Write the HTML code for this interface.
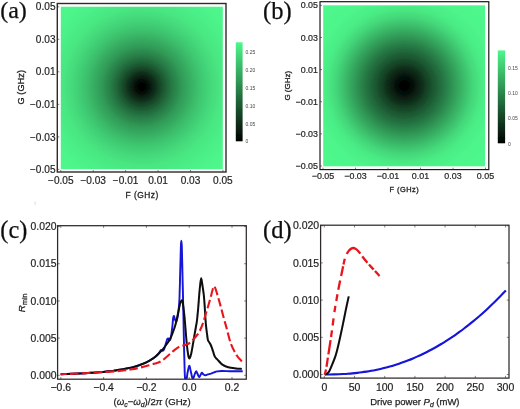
<!DOCTYPE html>
<html><head><meta charset="utf-8"><title>figure</title>
<style>html,body{margin:0;padding:0;background:#fff;overflow:hidden}svg{display:block}</style></head>
<body>
<svg width="520" height="409" viewBox="0 0 520 409">
<defs>
<radialGradient id="ga" gradientUnits="userSpaceOnUse" cx="141.8" cy="86.7" r="114.5"><stop offset="0.0000" stop-color="#000000"/><stop offset="0.0023" stop-color="#000000"/><stop offset="0.0071" stop-color="#000100"/><stop offset="0.0136" stop-color="#010201"/><stop offset="0.0216" stop-color="#010302"/><stop offset="0.0308" stop-color="#010402"/><stop offset="0.0413" stop-color="#020804"/><stop offset="0.0528" stop-color="#040c07"/><stop offset="0.0654" stop-color="#06120a"/><stop offset="0.0789" stop-color="#08190e"/><stop offset="0.0934" stop-color="#0b2113"/><stop offset="0.1088" stop-color="#0d2a18"/><stop offset="0.1251" stop-color="#10331d"/><stop offset="0.1422" stop-color="#133d22"/><stop offset="0.1601" stop-color="#164728"/><stop offset="0.1787" stop-color="#1a512e"/><stop offset="0.1982" stop-color="#1d5b33"/><stop offset="0.2184" stop-color="#206539"/><stop offset="0.2393" stop-color="#236e3e"/><stop offset="0.2609" stop-color="#267844"/><stop offset="0.2832" stop-color="#298149"/><stop offset="0.3062" stop-color="#2b894e"/><stop offset="0.3299" stop-color="#2e9253"/><stop offset="0.3542" stop-color="#319b57"/><stop offset="0.3792" stop-color="#33a25b"/><stop offset="0.4047" stop-color="#35a960"/><stop offset="0.4310" stop-color="#38b064"/><stop offset="0.4578" stop-color="#3ab868"/><stop offset="0.4852" stop-color="#3cbf6c"/><stop offset="0.5132" stop-color="#3ec670"/><stop offset="0.5418" stop-color="#40cc73"/><stop offset="0.5710" stop-color="#42d277"/><stop offset="0.6008" stop-color="#44d87a"/><stop offset="0.6311" stop-color="#46dd7d"/><stop offset="0.6620" stop-color="#47e280"/><stop offset="0.6934" stop-color="#49e782"/><stop offset="0.7254" stop-color="#49e984"/><stop offset="0.7579" stop-color="#4aec85"/><stop offset="0.7909" stop-color="#4bef87"/><stop offset="0.8245" stop-color="#4cf188"/><stop offset="0.8586" stop-color="#4cf389"/><stop offset="0.8932" stop-color="#4df58a"/><stop offset="0.9283" stop-color="#4df68b"/><stop offset="0.9639" stop-color="#4ef78b"/><stop offset="1.0000" stop-color="#4ef88c"/></radialGradient>
<radialGradient id="gb" gradientUnits="userSpaceOnUse" cx="404.4" cy="85.6" r="114.5"><stop offset="0.0000" stop-color="#000000"/><stop offset="0.0023" stop-color="#000000"/><stop offset="0.0071" stop-color="#000100"/><stop offset="0.0136" stop-color="#000101"/><stop offset="0.0216" stop-color="#010201"/><stop offset="0.0308" stop-color="#010302"/><stop offset="0.0413" stop-color="#020503"/><stop offset="0.0528" stop-color="#030805"/><stop offset="0.0654" stop-color="#040c07"/><stop offset="0.0789" stop-color="#05110a"/><stop offset="0.0934" stop-color="#07160d"/><stop offset="0.1088" stop-color="#091d10"/><stop offset="0.1251" stop-color="#0b2314"/><stop offset="0.1422" stop-color="#0d2a18"/><stop offset="0.1601" stop-color="#10321c"/><stop offset="0.1787" stop-color="#123920"/><stop offset="0.1982" stop-color="#154225"/><stop offset="0.2184" stop-color="#174a2a"/><stop offset="0.2393" stop-color="#1a522e"/><stop offset="0.2609" stop-color="#1c5a33"/><stop offset="0.2832" stop-color="#1f6237"/><stop offset="0.3062" stop-color="#216a3c"/><stop offset="0.3299" stop-color="#247241"/><stop offset="0.3542" stop-color="#277b46"/><stop offset="0.3792" stop-color="#2a854b"/><stop offset="0.4047" stop-color="#2d8f51"/><stop offset="0.4310" stop-color="#309956"/><stop offset="0.4578" stop-color="#33a35c"/><stop offset="0.4852" stop-color="#37ae62"/><stop offset="0.5132" stop-color="#3ab868"/><stop offset="0.5418" stop-color="#3dc36e"/><stop offset="0.5710" stop-color="#41cd74"/><stop offset="0.6008" stop-color="#44d87a"/><stop offset="0.6311" stop-color="#46df7e"/><stop offset="0.6620" stop-color="#49e782"/><stop offset="0.6934" stop-color="#4aed86"/><stop offset="0.7254" stop-color="#4bf087"/><stop offset="0.7579" stop-color="#4cf289"/><stop offset="0.7909" stop-color="#4df58a"/><stop offset="0.8245" stop-color="#4df58b"/><stop offset="0.8586" stop-color="#4df68b"/><stop offset="0.8932" stop-color="#4ef78b"/><stop offset="0.9283" stop-color="#4ef78c"/><stop offset="0.9639" stop-color="#4ef88c"/><stop offset="1.0000" stop-color="#4ef88c"/></radialGradient>
<linearGradient id="gbar" x1="0" y1="1" x2="0" y2="0"><stop offset="0" stop-color="#000000"/><stop offset="0.12" stop-color="#0a1f12"/><stop offset="0.25" stop-color="#143e23"/><stop offset="0.38" stop-color="#1d5d34"/><stop offset="0.5" stop-color="#277c46"/><stop offset="0.62" stop-color="#319b58"/><stop offset="0.75" stop-color="#3aba69"/><stop offset="0.88" stop-color="#44d97a"/><stop offset="1" stop-color="#4ef88c"/></linearGradient>
<filter id="soft" x="-2%" y="-2%" width="104%" height="104%"><feGaussianBlur stdDeviation="0.45"/></filter>
</defs>
<rect width="520" height="409" fill="#fff"/>
<g filter="url(#soft)">
<rect x="60.8" y="6.7" width="162" height="162.5" fill="url(#ga)"/>
<rect x="57.3" y="3.5" width="168.7" height="168.5" fill="none" stroke="#2e2a2c" stroke-width="1.4"/>
<text x="60.8" y="184" font-size="10.1" text-anchor="middle" font-family='"Liberation Sans", Arial, Helvetica, sans-serif' fill="#1f1f1f"  stroke="#1f1f1f" stroke-width="0.2">−0.05</text>
<text x="55.5" y="173.02" font-size="10.1" text-anchor="end" font-family='"Liberation Sans", Arial, Helvetica, sans-serif' fill="#1f1f1f"  stroke="#1f1f1f" stroke-width="0.2">−0.05</text>
<path d="M60.8 172v-2M57.3 169.4h2" stroke="#2e2a2c" stroke-width="0.6" fill="none"/>
<text x="93.22" y="184" font-size="10.1" text-anchor="middle" font-family='"Liberation Sans", Arial, Helvetica, sans-serif' fill="#1f1f1f"  stroke="#1f1f1f" stroke-width="0.2">−0.03</text>
<text x="55.5" y="140.5" font-size="10.1" text-anchor="end" font-family='"Liberation Sans", Arial, Helvetica, sans-serif' fill="#1f1f1f"  stroke="#1f1f1f" stroke-width="0.2">−0.03</text>
<path d="M93.22 172v-2M57.3 136.88h2" stroke="#2e2a2c" stroke-width="0.6" fill="none"/>
<text x="125.64" y="184" font-size="10.1" text-anchor="middle" font-family='"Liberation Sans", Arial, Helvetica, sans-serif' fill="#1f1f1f"  stroke="#1f1f1f" stroke-width="0.2">−0.01</text>
<text x="55.5" y="107.98" font-size="10.1" text-anchor="end" font-family='"Liberation Sans", Arial, Helvetica, sans-serif' fill="#1f1f1f"  stroke="#1f1f1f" stroke-width="0.2">−0.01</text>
<path d="M125.64 172v-2M57.3 104.36h2" stroke="#2e2a2c" stroke-width="0.6" fill="none"/>
<text x="158.06" y="184" font-size="10.1" text-anchor="middle" font-family='"Liberation Sans", Arial, Helvetica, sans-serif' fill="#1f1f1f"  stroke="#1f1f1f" stroke-width="0.2">0.01</text>
<text x="55.5" y="75.46" font-size="10.1" text-anchor="end" font-family='"Liberation Sans", Arial, Helvetica, sans-serif' fill="#1f1f1f"  stroke="#1f1f1f" stroke-width="0.2">0.01</text>
<path d="M158.06 172v-2M57.3 71.84h2" stroke="#2e2a2c" stroke-width="0.6" fill="none"/>
<text x="190.48" y="184" font-size="10.1" text-anchor="middle" font-family='"Liberation Sans", Arial, Helvetica, sans-serif' fill="#1f1f1f"  stroke="#1f1f1f" stroke-width="0.2">0.03</text>
<text x="55.5" y="42.94" font-size="10.1" text-anchor="end" font-family='"Liberation Sans", Arial, Helvetica, sans-serif' fill="#1f1f1f"  stroke="#1f1f1f" stroke-width="0.2">0.03</text>
<path d="M190.48 172v-2M57.3 39.32h2" stroke="#2e2a2c" stroke-width="0.6" fill="none"/>
<text x="222.9" y="184" font-size="10.1" text-anchor="middle" font-family='"Liberation Sans", Arial, Helvetica, sans-serif' fill="#1f1f1f"  stroke="#1f1f1f" stroke-width="0.2">0.05</text>
<text x="55.5" y="10.42" font-size="10.1" text-anchor="end" font-family='"Liberation Sans", Arial, Helvetica, sans-serif' fill="#1f1f1f"  stroke="#1f1f1f" stroke-width="0.2">0.05</text>
<path d="M222.9 172v-2M57.3 6.8h2" stroke="#2e2a2c" stroke-width="0.6" fill="none"/>
<text x="142.2" y="198" font-size="8.4" text-anchor="middle" font-family='"Liberation Sans", Arial, Helvetica, sans-serif' fill="#1f1f1f" letter-spacing="0.5" stroke="#1f1f1f" stroke-width="0.3">F (GHz)</text>
<text x="0" y="0" font-size="9.1" text-anchor="middle" font-family='"Liberation Sans", Arial, Helvetica, sans-serif' fill="#1f1f1f" letter-spacing="0.1" stroke="#1f1f1f" stroke-width="0.3" transform="translate(23.9 87.2) rotate(-90)">G (GHz)</text>
<rect x="235.8" y="42.3" width="6.8" height="99" fill="url(#gbar)"/>
<text x="245.5" y="143.39" font-size="5" text-anchor="start" font-family='"Liberation Sans", Arial, Helvetica, sans-serif' fill="#444" >0</text>
<text x="245.5" y="125.99" font-size="5" text-anchor="start" font-family='"Liberation Sans", Arial, Helvetica, sans-serif' fill="#444" >0.05</text>
<text x="245.5" y="108.19" font-size="5" text-anchor="start" font-family='"Liberation Sans", Arial, Helvetica, sans-serif' fill="#444" >0.10</text>
<text x="245.5" y="90.29" font-size="5" text-anchor="start" font-family='"Liberation Sans", Arial, Helvetica, sans-serif' fill="#444" >0.15</text>
<text x="245.5" y="72.39" font-size="5" text-anchor="start" font-family='"Liberation Sans", Arial, Helvetica, sans-serif' fill="#444" >0.20</text>
<text x="245.5" y="54.49" font-size="5" text-anchor="start" font-family='"Liberation Sans", Arial, Helvetica, sans-serif' fill="#444" >0.25</text>
<text x="0.2" y="18.3" font-size="24" text-anchor="start" font-family='"Liberation Serif", "Times New Roman", serif' fill="#111" stroke="#111" stroke-width="0.25">(a)</text>
<rect x="323.2" y="5.3" width="161.9" height="161" fill="url(#gb)"/>
<rect x="320" y="1.7" width="168.8" height="167.9" fill="none" stroke="#141214" stroke-width="1.15"/>
<text x="323" y="178.7" font-size="8.9" text-anchor="middle" font-family='"Liberation Sans", Arial, Helvetica, sans-serif' fill="#1f1f1f"  stroke="#1f1f1f" stroke-width="0.2">−0.05</text>
<text x="318" y="169.19" font-size="8.9" text-anchor="end" font-family='"Liberation Sans", Arial, Helvetica, sans-serif' fill="#1f1f1f"  stroke="#1f1f1f" stroke-width="0.2">−0.05</text>
<path d="M323 169.6v-2M320 166h2" stroke="#2e2a2c" stroke-width="0.6" fill="none"/>
<text x="355.5" y="178.7" font-size="8.9" text-anchor="middle" font-family='"Liberation Sans", Arial, Helvetica, sans-serif' fill="#1f1f1f"  stroke="#1f1f1f" stroke-width="0.2">−0.03</text>
<text x="318" y="137.05" font-size="8.9" text-anchor="end" font-family='"Liberation Sans", Arial, Helvetica, sans-serif' fill="#1f1f1f"  stroke="#1f1f1f" stroke-width="0.2">−0.03</text>
<path d="M355.5 169.6v-2M320 133.86h2" stroke="#2e2a2c" stroke-width="0.6" fill="none"/>
<text x="388" y="178.7" font-size="8.9" text-anchor="middle" font-family='"Liberation Sans", Arial, Helvetica, sans-serif' fill="#1f1f1f"  stroke="#1f1f1f" stroke-width="0.2">−0.01</text>
<text x="318" y="104.91" font-size="8.9" text-anchor="end" font-family='"Liberation Sans", Arial, Helvetica, sans-serif' fill="#1f1f1f"  stroke="#1f1f1f" stroke-width="0.2">−0.01</text>
<path d="M388 169.6v-2M320 101.72h2" stroke="#2e2a2c" stroke-width="0.6" fill="none"/>
<text x="420.5" y="178.7" font-size="8.9" text-anchor="middle" font-family='"Liberation Sans", Arial, Helvetica, sans-serif' fill="#1f1f1f"  stroke="#1f1f1f" stroke-width="0.2">0.01</text>
<text x="318" y="72.77" font-size="8.9" text-anchor="end" font-family='"Liberation Sans", Arial, Helvetica, sans-serif' fill="#1f1f1f"  stroke="#1f1f1f" stroke-width="0.2">0.01</text>
<path d="M420.5 169.6v-2M320 69.58h2" stroke="#2e2a2c" stroke-width="0.6" fill="none"/>
<text x="453" y="178.7" font-size="8.9" text-anchor="middle" font-family='"Liberation Sans", Arial, Helvetica, sans-serif' fill="#1f1f1f"  stroke="#1f1f1f" stroke-width="0.2">0.03</text>
<text x="318" y="40.63" font-size="8.9" text-anchor="end" font-family='"Liberation Sans", Arial, Helvetica, sans-serif' fill="#1f1f1f"  stroke="#1f1f1f" stroke-width="0.2">0.03</text>
<path d="M453 169.6v-2M320 37.44h2" stroke="#2e2a2c" stroke-width="0.6" fill="none"/>
<text x="485.5" y="178.7" font-size="8.9" text-anchor="middle" font-family='"Liberation Sans", Arial, Helvetica, sans-serif' fill="#1f1f1f"  stroke="#1f1f1f" stroke-width="0.2">0.05</text>
<text x="318" y="8.49" font-size="8.9" text-anchor="end" font-family='"Liberation Sans", Arial, Helvetica, sans-serif' fill="#1f1f1f"  stroke="#1f1f1f" stroke-width="0.2">0.05</text>
<path d="M485.5 169.6v-2M320 5.3h2" stroke="#2e2a2c" stroke-width="0.6" fill="none"/>
<text x="404.4" y="191.5" font-size="7.4" text-anchor="middle" font-family='"Liberation Sans", Arial, Helvetica, sans-serif' fill="#1f1f1f" letter-spacing="0.5" stroke="#1f1f1f" stroke-width="0.3">F (GHz)</text>
<text x="0" y="0" font-size="8.0" text-anchor="middle" font-family='"Liberation Sans", Arial, Helvetica, sans-serif' fill="#1f1f1f" letter-spacing="0" stroke="#1f1f1f" stroke-width="0.3" transform="translate(290.4 85.7) rotate(-90)">G (GHz)</text>
<rect x="497.8" y="50.4" width="7.3" height="92.9" fill="url(#gbar)"/>
<text x="508" y="145.59" font-size="5" text-anchor="start" font-family='"Liberation Sans", Arial, Helvetica, sans-serif' fill="#444" >0</text>
<text x="508" y="120.39" font-size="5" text-anchor="start" font-family='"Liberation Sans", Arial, Helvetica, sans-serif' fill="#444" >0.05</text>
<text x="508" y="95.39" font-size="5" text-anchor="start" font-family='"Liberation Sans", Arial, Helvetica, sans-serif' fill="#444" >0.10</text>
<text x="508" y="69.99" font-size="5" text-anchor="start" font-family='"Liberation Sans", Arial, Helvetica, sans-serif' fill="#444" >0.15</text>
<text x="263.1" y="18.9" font-size="24.5" text-anchor="start" font-family='"Liberation Serif", "Times New Roman", serif' fill="#111" stroke="#111" stroke-width="0.25">(b)</text>
<rect x="34.6" y="201.5" width="1" height="3.6" fill="#dcdcdc"/>
<clipPath id="clipc"><rect x="57.6" y="225.7" width="188.7" height="153.5"/></clipPath>
<g clip-path="url(#clipc)" fill="none" stroke-linejoin="round">
<path d="M60.7 374.3C61.65 374.25 65.16 374.07 67 374C68.84 373.93 71.2 373.88 73 373.8C74.8 373.73 77.2 373.59 79 373.5C80.8 373.41 83.2 373.31 85 373.2C86.8 373.09 89.2 372.92 91 372.8C92.8 372.68 95.2 372.53 97 372.4C98.8 372.26 101.2 372.06 103 371.9C104.8 371.73 107.2 371.51 109 371.3C110.8 371.09 113.2 370.75 115 370.5C116.8 370.25 119.2 369.92 121 369.6C122.8 369.29 125.2 368.77 127 368.4C128.8 368.02 131.2 367.56 133 367.1C134.8 366.64 137.2 365.92 139 365.3C140.8 364.69 143.2 363.82 145 363C146.8 362.18 149.35 360.81 151 359.8C152.65 358.8 154.8 357.32 156 356.3C157.2 355.28 158.25 353.94 159 353C159.75 352.06 160.47 350.33 161 350C161.53 349.67 162.05 350.88 162.5 350.8C162.95 350.73 163.47 350.67 164 349.5C164.53 348.33 165.5 344.57 166 343C166.5 341.43 166.93 339.68 167.3 339C167.68 338.32 168.16 338.27 168.5 338.5C168.84 338.73 169.22 340.73 169.6 340.5C169.97 340.27 170.59 339.02 171 337C171.41 334.98 171.97 329.85 172.3 327C172.63 324.15 172.94 319.65 173.2 318C173.45 316.35 173.73 315.77 174 316C174.27 316.23 174.66 318.68 175 319.5C175.34 320.32 175.91 321.88 176.3 321.5C176.69 321.12 177.25 318.73 177.6 317C177.94 315.27 178.31 312.85 178.6 310C178.88 307.15 179.25 304.3 179.5 298C179.75 291.7 180.09 275.8 180.3 268C180.51 260.2 180.75 250.08 180.9 246C181.05 241.92 181.17 240.8 181.3 240.8C181.44 240.8 181.62 240.87 181.8 246C181.98 251.13 182.28 265.4 182.5 275C182.72 284.6 183.08 299.5 183.3 310C183.53 320.5 183.79 335.7 184 345C184.21 354.3 184.52 366.82 184.7 372C184.88 377.18 184.93 378.38 185.2 379.5C185.47 380.62 186.14 380.55 186.5 379.5C186.86 378.45 187.19 374.56 187.6 372.5C188 370.44 188.75 366.1 189.2 365.8C189.65 365.5 190.13 368.67 190.6 370.5C191.06 372.33 191.87 376.88 192.3 378C192.74 379.12 193.12 378.6 193.5 378C193.88 377.4 194.4 375 194.8 374C195.21 373 195.78 371.3 196.2 371.3C196.62 371.3 197.18 373.14 197.6 374C198.02 374.86 198.59 376.77 199 377C199.41 377.23 199.88 376.14 200.3 375.5C200.72 374.86 201.32 372.85 201.8 372.7C202.28 372.55 202.94 374.12 203.5 374.5C204.06 374.88 204.87 375.21 205.5 375.2C206.13 375.19 206.88 374.64 207.7 374.4C208.52 374.16 210.06 373.9 211 373.6C211.94 373.3 213.06 372.73 214 372.4C214.94 372.07 216.1 371.61 217.3 371.4C218.5 371.19 220.09 371.03 222 371C223.91 370.97 226.9 371.15 230 371.2C233.1 371.25 240.79 371.29 242.7 371.3" stroke="#1212d8" stroke-width="1.9" />
<path d="M60.7 374.3C61.75 374.25 64.95 374.08 67 374C69.05 373.92 71 373.88 73 373.8C75 373.72 77 373.6 79 373.5C81 373.4 83 373.32 85 373.2C87 373.08 89 372.93 91 372.8C93 372.67 95 372.55 97 372.4C99 372.25 101 372.08 103 371.9C105 371.72 107 371.53 109 371.3C111 371.07 113 370.78 115 370.5C117 370.22 119 369.95 121 369.6C123 369.25 125 368.82 127 368.4C129 367.98 131 367.62 133 367.1C135 366.58 137 365.98 139 365.3C141 364.62 143.17 363.83 145 363C146.83 362.17 148.33 361.3 150 360.3C151.67 359.3 153.33 358.33 155 357C156.67 355.67 158.33 354.05 160 352.3C161.67 350.55 163.33 348.72 165 346.5C166.67 344.28 168.67 341.42 170 339C171.33 336.58 172.08 334.42 173 332C173.92 329.58 174.67 327.58 175.5 324.5C176.33 321.42 177.25 316.92 178 313.5C178.75 310.08 179.4 306.18 180 304C180.6 301.82 181.13 300.57 181.6 300.4C182.07 300.23 182.3 300.07 182.8 303C183.3 305.93 183.97 311.5 184.6 318C185.23 324.5 186 335.83 186.6 342C187.2 348.17 187.73 352.25 188.2 355C188.67 357.75 188.93 358.58 189.4 358.5C189.87 358.42 190.43 356.75 191 354.5C191.57 352.25 192.23 348.17 192.8 345C193.37 341.83 193.9 338.42 194.4 335.5C194.9 332.58 195.38 329.92 195.8 327.5C196.22 325.08 196.5 324.25 196.9 321C197.3 317.75 197.82 312.33 198.2 308C198.58 303.67 198.87 298.92 199.2 295C199.53 291.08 199.87 287.3 200.2 284.5C200.53 281.7 200.85 278.2 201.2 278.2C201.55 278.2 201.87 281.7 202.3 284.5C202.73 287.3 203.38 291.08 203.8 295C204.22 298.92 204.5 303.67 204.8 308C205.1 312.33 205.32 317.33 205.6 321C205.88 324.67 206.22 327.5 206.5 330C206.78 332.5 207.07 334.33 207.3 336C207.53 337.67 207.57 338.92 207.9 340C208.23 341.08 208.85 341.72 209.3 342.5C209.75 343.28 210.18 343.85 210.6 344.7C211.02 345.55 211.37 346.42 211.8 347.6C212.23 348.78 212.78 350.52 213.2 351.8C213.62 353.08 213.95 354.38 214.3 355.3C214.65 356.22 214.9 356.7 215.3 357.3C215.7 357.9 216.17 358.32 216.7 358.9C217.23 359.48 217.85 360.12 218.5 360.8C219.15 361.48 219.88 362.32 220.6 363C221.32 363.68 221.9 364.32 222.8 364.9C223.7 365.48 224.68 366.02 226 366.5C227.32 366.98 229.03 367.47 230.7 367.8C232.37 368.13 234.15 368.32 236 368.5C237.85 368.68 240.83 368.83 241.8 368.9" stroke="#0a0a0a" stroke-width="2.0" />
<path d="M60.7 374.3C62.25 374.23 66.78 374.03 70 373.9C73.22 373.77 76.5 373.68 80 373.5C83.5 373.32 87.33 373.03 91 372.8C94.67 372.57 98 372.35 102 372.1C106 371.85 111.17 371.6 115 371.3C118.83 371 122.17 370.63 125 370.3C127.83 369.97 129.5 369.75 132 369.3C134.5 368.85 137.33 368.22 140 367.6C142.67 366.98 145.5 366.27 148 365.6C150.5 364.93 153 364.23 155 363.6C157 362.97 158.33 362.68 160 361.8C161.67 360.92 163.33 359.6 165 358.3C166.67 357 168.33 355.45 170 354C171.67 352.55 173.33 350.87 175 349.6C176.67 348.33 178.17 347.2 180 346.4C181.83 345.6 184.17 345.57 186 344.8C187.83 344.03 189 343.63 191 341.8C193 339.97 196.25 336.27 198 333.8C199.75 331.33 200.53 329.22 201.5 327C202.47 324.78 203.02 322.92 203.8 320.5C204.58 318.08 205.42 315.08 206.2 312.5C206.98 309.92 207.77 307.5 208.5 305C209.23 302.5 209.98 299.78 210.6 297.5C211.22 295.22 211.75 292.95 212.2 291.3C212.65 289.65 212.98 288.43 213.3 287.6C213.62 286.77 213.85 286.37 214.1 286.3C214.35 286.23 214.52 286.67 214.8 287.2C215.08 287.73 215.3 288 215.8 289.5C216.3 291 217.23 294.28 217.8 296.2C218.37 298.12 218.67 299.12 219.2 301C219.73 302.88 220.23 304.65 221 307.5C221.77 310.35 222.92 314.85 223.8 318.1C224.68 321.35 225.13 322.77 226.3 327C227.47 331.23 229.1 338.83 230.8 343.5C232.5 348.17 234.8 352.17 236.5 355C238.2 357.83 239.97 359.33 241 360.5C242.03 361.67 242.42 361.75 242.7 362" stroke="#e8141c" stroke-width="2.1" stroke-dasharray="8.6 3.3" stroke-dashoffset="2.6"/>
</g>
<rect x="57.6" y="225.7" width="188.7" height="153.5" fill="none" stroke="#2e2a2c" stroke-width="1.25"/>
<text x="60.8" y="391.4" font-size="10.4" text-anchor="middle" font-family='"Liberation Sans", Arial, Helvetica, sans-serif' fill="#1f1f1f"  stroke="#1f1f1f" stroke-width="0.2">−0.6</text>
<path d="M60.8 379.2v-2.2M60.8 225.7v2.2" stroke="#2e2a2c" stroke-width="0.6" fill="none"/>
<text x="103.6" y="391.4" font-size="10.4" text-anchor="middle" font-family='"Liberation Sans", Arial, Helvetica, sans-serif' fill="#1f1f1f"  stroke="#1f1f1f" stroke-width="0.2">−0.4</text>
<path d="M103.6 379.2v-2.2M103.6 225.7v2.2" stroke="#2e2a2c" stroke-width="0.6" fill="none"/>
<text x="146.4" y="391.4" font-size="10.4" text-anchor="middle" font-family='"Liberation Sans", Arial, Helvetica, sans-serif' fill="#1f1f1f"  stroke="#1f1f1f" stroke-width="0.2">−0.2</text>
<path d="M146.4 379.2v-2.2M146.4 225.7v2.2" stroke="#2e2a2c" stroke-width="0.6" fill="none"/>
<text x="189.2" y="391.4" font-size="10.4" text-anchor="middle" font-family='"Liberation Sans", Arial, Helvetica, sans-serif' fill="#1f1f1f"  stroke="#1f1f1f" stroke-width="0.2">0.0</text>
<path d="M189.2 379.2v-2.2M189.2 225.7v2.2" stroke="#2e2a2c" stroke-width="0.6" fill="none"/>
<text x="232" y="391.4" font-size="10.4" text-anchor="middle" font-family='"Liberation Sans", Arial, Helvetica, sans-serif' fill="#1f1f1f"  stroke="#1f1f1f" stroke-width="0.2">0.2</text>
<path d="M232 379.2v-2.2M232 225.7v2.2" stroke="#2e2a2c" stroke-width="0.6" fill="none"/>
<text x="56.6" y="379.02" font-size="10.4" text-anchor="end" font-family='"Liberation Sans", Arial, Helvetica, sans-serif' fill="#1f1f1f"  stroke="#1f1f1f" stroke-width="0.2">0.000</text>
<path d="M57.6 375.3h2.2M246.3 375.3h-2.2" stroke="#2e2a2c" stroke-width="0.6" fill="none"/>
<text x="56.6" y="341.84" font-size="10.4" text-anchor="end" font-family='"Liberation Sans", Arial, Helvetica, sans-serif' fill="#1f1f1f"  stroke="#1f1f1f" stroke-width="0.2">0.005</text>
<path d="M57.6 338.12h2.2M246.3 338.12h-2.2" stroke="#2e2a2c" stroke-width="0.6" fill="none"/>
<text x="56.6" y="304.66" font-size="10.4" text-anchor="end" font-family='"Liberation Sans", Arial, Helvetica, sans-serif' fill="#1f1f1f"  stroke="#1f1f1f" stroke-width="0.2">0.010</text>
<path d="M57.6 300.94h2.2M246.3 300.94h-2.2" stroke="#2e2a2c" stroke-width="0.6" fill="none"/>
<text x="56.6" y="267.48" font-size="10.4" text-anchor="end" font-family='"Liberation Sans", Arial, Helvetica, sans-serif' fill="#1f1f1f"  stroke="#1f1f1f" stroke-width="0.2">0.015</text>
<path d="M57.6 263.76h2.2M246.3 263.76h-2.2" stroke="#2e2a2c" stroke-width="0.6" fill="none"/>
<text x="56.6" y="230.3" font-size="10.4" text-anchor="end" font-family='"Liberation Sans", Arial, Helvetica, sans-serif' fill="#1f1f1f"  stroke="#1f1f1f" stroke-width="0.2">0.020</text>
<path d="M57.6 226.58h2.2M246.3 226.58h-2.2" stroke="#2e2a2c" stroke-width="0.6" fill="none"/>
<text x="152.1" y="405.2" font-size="9.65" text-anchor="middle" font-family='"Liberation Sans", Arial, Helvetica, sans-serif' fill="#1f1f1f" stroke="#1f1f1f" stroke-width="0.25">(<tspan font-style="italic">ω</tspan><tspan font-size="6.8" dy="1.9" font-style="italic">c</tspan><tspan dy="-1.9">−</tspan><tspan font-style="italic">ω</tspan><tspan font-size="6.8" dy="1.9" font-style="italic">d</tspan><tspan dy="-1.9">)/2</tspan><tspan font-style="italic">π</tspan> (GHz)</text>
<text transform="translate(25.3 302.8) rotate(-90)" font-size="9.8" text-anchor="middle" font-family='"Liberation Sans", Arial, Helvetica, sans-serif' fill="#1f1f1f" stroke="#1f1f1f" stroke-width="0.25"><tspan font-style="italic">R</tspan><tspan font-size="7.2" dy="1.7">min</tspan></text>
<text x="0.3" y="237.8" font-size="24.3" text-anchor="start" font-family='"Liberation Serif", "Times New Roman", serif' fill="#111" stroke="#111" stroke-width="0.25">(c)</text>
<clipPath id="clipd"><rect x="320.6" y="225.2" width="188.4" height="152.9"/></clipPath>
<g clip-path="url(#clipd)" fill="none" stroke-linejoin="round">
<path d="M324.7 374.5C325.47 374.5 327.8 374.5 329.35 374.48C330.89 374.47 332.44 374.44 333.99 374.41C335.54 374.37 337.09 374.33 338.64 374.27C340.19 374.21 341.74 374.14 343.28 374.05C344.83 373.97 346.38 373.87 347.93 373.75C349.48 373.64 351.03 373.51 352.58 373.37C354.13 373.22 355.67 373.06 357.22 372.88C358.77 372.7 360.32 372.51 361.87 372.3C363.42 372.09 364.97 371.86 366.52 371.62C368.06 371.37 369.61 371.11 371.16 370.83C372.71 370.54 374.26 370.24 375.81 369.92C377.36 369.61 378.91 369.27 380.45 368.91C382 368.55 383.55 368.18 385.1 367.78C386.65 367.39 388.2 366.97 389.75 366.53C391.29 366.1 392.84 365.64 394.39 365.16C395.94 364.69 397.49 364.19 399.04 363.67C400.59 363.15 402.14 362.61 403.68 362.05C405.23 361.49 406.78 360.9 408.33 360.3C409.88 359.69 411.43 359.07 412.98 358.42C414.53 357.77 416.07 357.1 417.62 356.4C419.17 355.71 420.72 354.99 422.27 354.26C423.82 353.52 425.37 352.75 426.92 351.97C428.46 351.18 430.01 350.38 431.56 349.54C433.11 348.71 434.66 347.86 436.21 346.98C437.76 346.1 439.31 345.2 440.85 344.27C442.4 343.34 443.95 342.39 445.5 341.41C447.05 340.44 448.6 339.44 450.15 338.41C451.69 337.39 453.24 336.34 454.79 335.27C456.34 334.19 457.89 333.09 459.44 331.97C460.99 330.84 462.54 329.69 464.08 328.52C465.63 327.34 467.18 326.14 468.73 324.92C470.28 323.69 471.83 322.44 473.38 321.16C474.93 319.88 476.47 318.58 478.02 317.25C479.57 315.92 481.12 314.56 482.67 313.18C484.22 311.8 485.77 310.39 487.32 308.95C488.86 307.52 490.41 306.05 491.96 304.56C493.51 303.07 495.06 301.56 496.61 300.02C498.16 298.47 499.71 296.9 501.25 295.3C502.8 293.71 505.13 291.24 505.9 290.43" stroke="#1212d8" stroke-width="2.1" />
<path d="M324.7 374.5C325.1 374.35 326.29 374.29 327.12 373.61C327.94 372.93 328.75 372.06 329.65 370.41C330.56 368.76 331.58 366.13 332.55 363.71C333.53 361.29 334.71 358.32 335.51 355.9C336.32 353.48 336.67 352.06 337.38 349.2C338.1 346.35 338.89 342.88 339.8 338.79C340.71 334.7 341.81 329.49 342.82 324.65C343.83 319.82 344.85 314.48 345.84 309.77C346.83 305.06 348.26 298.61 348.74 296.38" stroke="#0a0a0a" stroke-width="2.0" />
<path d="M324.7 374.5C324.95 373.51 325.71 371.2 326.21 368.55C326.71 365.89 327.17 362.17 327.72 358.58C328.27 354.98 328.89 351.2 329.53 346.97C330.18 342.74 330.73 339.28 331.59 333.21C332.44 327.13 333.85 316.07 334.67 310.52C335.48 304.96 335.82 303.6 336.48 299.88C337.13 296.16 337.75 292.5 338.59 288.2C339.44 283.89 340.48 279.11 341.55 274.06C342.62 269.01 343.98 261.51 344.99 257.92C346.01 254.32 346.81 253.89 347.65 252.48C348.5 251.08 349.17 250.25 350.07 249.51C350.96 248.76 352.02 248.08 353.03 248.02C354.03 247.96 355.11 248.49 356.11 249.14C357.1 249.78 357.9 250.59 359.01 251.89C360.11 253.19 361.32 255.11 362.75 256.95C364.18 258.78 365.87 260.92 367.58 262.9C369.3 264.88 371.03 266.68 373.02 268.85C375.01 271.02 378.46 274.74 379.54 275.92" stroke="#e8141c" stroke-width="2.3" stroke-dasharray="5.3 2.8 9.2 3.4 14.2 3.2 6.9 4.7 7 6.2 6.5 5.1 7 4.5 9.5 4.5 9.8 1.8 5.9 5.2 18.6 3.2 8.1 2.4 7 1.9 30 1"/>
</g>
<rect x="320.6" y="225.2" width="188.4" height="152.9" fill="none" stroke="#2e2a2c" stroke-width="1.25"/>
<text x="324.3" y="390.6" font-size="10.5" text-anchor="middle" font-family='"Liberation Sans", Arial, Helvetica, sans-serif' fill="#1f1f1f"  stroke="#1f1f1f" stroke-width="0.2">0</text>
<path d="M324.3 378.1v-2.2M324.3 225.2v2.2" stroke="#2e2a2c" stroke-width="0.6" fill="none"/>
<text x="354.5" y="390.6" font-size="10.5" text-anchor="middle" font-family='"Liberation Sans", Arial, Helvetica, sans-serif' fill="#1f1f1f"  stroke="#1f1f1f" stroke-width="0.2">50</text>
<path d="M354.5 378.1v-2.2M354.5 225.2v2.2" stroke="#2e2a2c" stroke-width="0.6" fill="none"/>
<text x="384.7" y="390.6" font-size="10.5" text-anchor="middle" font-family='"Liberation Sans", Arial, Helvetica, sans-serif' fill="#1f1f1f"  stroke="#1f1f1f" stroke-width="0.2">100</text>
<path d="M384.7 378.1v-2.2M384.7 225.2v2.2" stroke="#2e2a2c" stroke-width="0.6" fill="none"/>
<text x="414.9" y="390.6" font-size="10.5" text-anchor="middle" font-family='"Liberation Sans", Arial, Helvetica, sans-serif' fill="#1f1f1f"  stroke="#1f1f1f" stroke-width="0.2">150</text>
<path d="M414.9 378.1v-2.2M414.9 225.2v2.2" stroke="#2e2a2c" stroke-width="0.6" fill="none"/>
<text x="445.1" y="390.6" font-size="10.5" text-anchor="middle" font-family='"Liberation Sans", Arial, Helvetica, sans-serif' fill="#1f1f1f"  stroke="#1f1f1f" stroke-width="0.2">200</text>
<path d="M445.1 378.1v-2.2M445.1 225.2v2.2" stroke="#2e2a2c" stroke-width="0.6" fill="none"/>
<text x="475.3" y="390.6" font-size="10.5" text-anchor="middle" font-family='"Liberation Sans", Arial, Helvetica, sans-serif' fill="#1f1f1f"  stroke="#1f1f1f" stroke-width="0.2">250</text>
<path d="M475.3 378.1v-2.2M475.3 225.2v2.2" stroke="#2e2a2c" stroke-width="0.6" fill="none"/>
<text x="505.5" y="390.6" font-size="10.5" text-anchor="middle" font-family='"Liberation Sans", Arial, Helvetica, sans-serif' fill="#1f1f1f"  stroke="#1f1f1f" stroke-width="0.2">300</text>
<path d="M505.5 378.1v-2.2M505.5 225.2v2.2" stroke="#2e2a2c" stroke-width="0.6" fill="none"/>
<text x="319.2" y="378.26" font-size="10.5" text-anchor="end" font-family='"Liberation Sans", Arial, Helvetica, sans-serif' fill="#1f1f1f"  stroke="#1f1f1f" stroke-width="0.2">0.000</text>
<path d="M320.6 374.5h2.2M509 374.5h-2.2" stroke="#2e2a2c" stroke-width="0.6" fill="none"/>
<text x="319.2" y="341.06" font-size="10.5" text-anchor="end" font-family='"Liberation Sans", Arial, Helvetica, sans-serif' fill="#1f1f1f"  stroke="#1f1f1f" stroke-width="0.2">0.005</text>
<path d="M320.6 337.3h2.2M509 337.3h-2.2" stroke="#2e2a2c" stroke-width="0.6" fill="none"/>
<text x="319.2" y="303.86" font-size="10.5" text-anchor="end" font-family='"Liberation Sans", Arial, Helvetica, sans-serif' fill="#1f1f1f"  stroke="#1f1f1f" stroke-width="0.2">0.010</text>
<path d="M320.6 300.1h2.2M509 300.1h-2.2" stroke="#2e2a2c" stroke-width="0.6" fill="none"/>
<text x="319.2" y="266.66" font-size="10.5" text-anchor="end" font-family='"Liberation Sans", Arial, Helvetica, sans-serif' fill="#1f1f1f"  stroke="#1f1f1f" stroke-width="0.2">0.015</text>
<path d="M320.6 262.9h2.2M509 262.9h-2.2" stroke="#2e2a2c" stroke-width="0.6" fill="none"/>
<text x="319.2" y="229.46" font-size="10.5" text-anchor="end" font-family='"Liberation Sans", Arial, Helvetica, sans-serif' fill="#1f1f1f"  stroke="#1f1f1f" stroke-width="0.2">0.020</text>
<path d="M320.6 225.7h2.2M509 225.7h-2.2" stroke="#2e2a2c" stroke-width="0.6" fill="none"/>
<text x="414.9" y="404.6" font-size="9.5" text-anchor="middle" font-family='"Liberation Sans", Arial, Helvetica, sans-serif' fill="#1f1f1f" stroke="#1f1f1f" stroke-width="0.25">Drive power <tspan font-style="italic">P</tspan><tspan font-size="6.8" dy="1.9" font-style="italic">d</tspan><tspan dy="-1.9"> (mW)</tspan></text>
<text x="263.1" y="237.5" font-size="24.5" text-anchor="start" font-family='"Liberation Serif", "Times New Roman", serif' fill="#111" stroke="#111" stroke-width="0.25">(d)</text>
</g>
</svg>
</body></html>
